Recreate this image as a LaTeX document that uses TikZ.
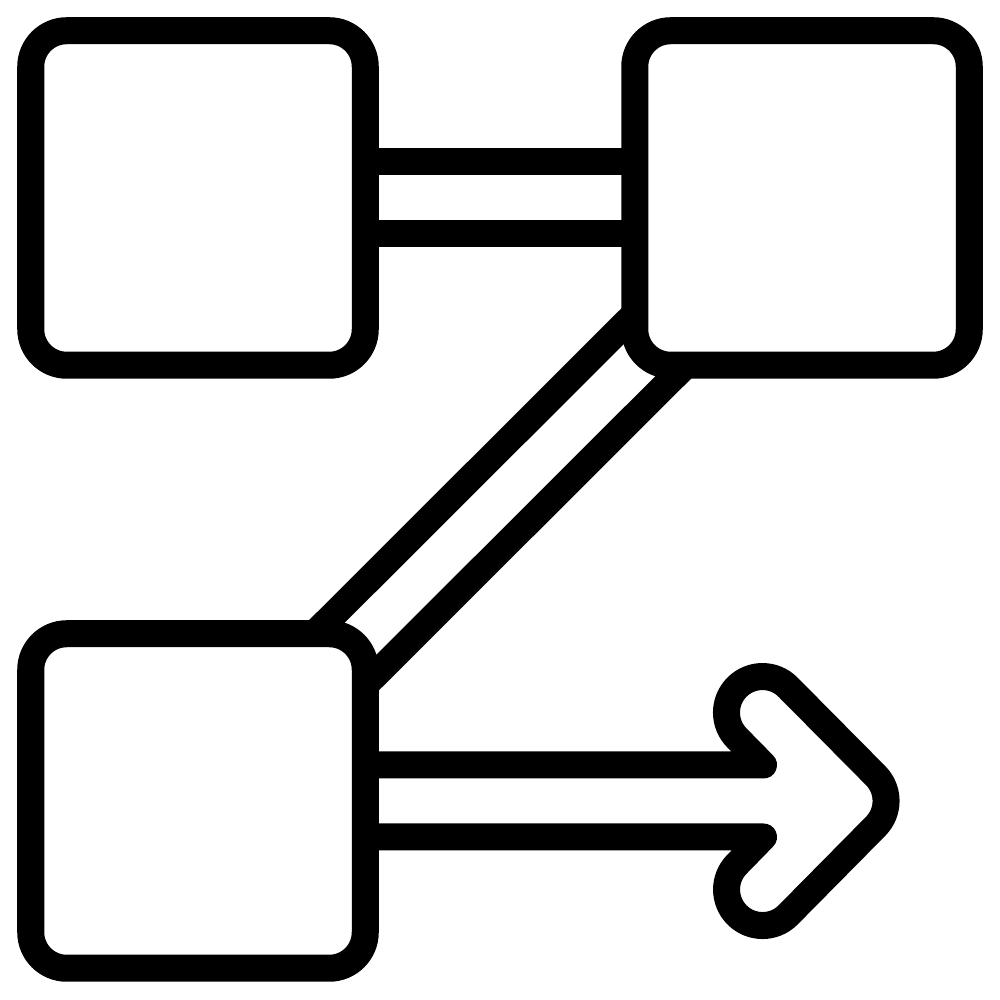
\documentclass[tikz,border=0pt]{standalone}
\usetikzlibrary{calc}
\usetikzlibrary{backgrounds}

\begin{document}
\begin{tikzpicture}[
  box/.style={draw, line width=.27cm, fill=white, rounded corners=.36cm, minimum size=3.345cm, inner sep=0pt},
  bar/.style={line width=.27cm, line join=round, line cap=round}]
\useasboundingbox (0,0) rectangle (10,10);

\node[box] (tl) at (1.98,8.02) {};
\node[box] (tr) at (8.02,8.02) {};
\node[box] (bl) at (1.98,1.99) {};

\coordinate (headtop) at (7.635,2.35);
\coordinate (headbot) at (7.635,1.63);

\begin{scope}[on background layer]
% top bar
\draw[bar] ([yshift=3.6mm]tl.center) -- ([yshift=3.6mm]tr.center);
\draw[bar] ([yshift=-3.6mm]tl.center) -- ([yshift=-3.6mm]tr.center);
% diagonal bar
\draw[bar] ($(bl.center)!3.6mm!90:(tr.center)$) -- ($(tr.center)!3.6mm!-90:(bl.center)$);
\draw[bar] ($(bl.center)!3.6mm!-90:(tr.center)$) -- ($(tr.center)!3.6mm!90:(bl.center)$);
% arrow
\draw[bar] ([yshift=3.6mm]bl.center) -- (headtop) -- (7.37,2.62)
  arc[start angle=225, end angle=45, radius=.36] -- (8.755,2.245)
  arc[start angle=45, end angle=-45, radius=.36] -- (7.88,0.85)
  arc[start angle=-45, end angle=-225, radius=.36] -- (headbot)
  -- ([yshift=-3.6mm]bl.center);
\end{scope}
\end{tikzpicture}
\end{document}
